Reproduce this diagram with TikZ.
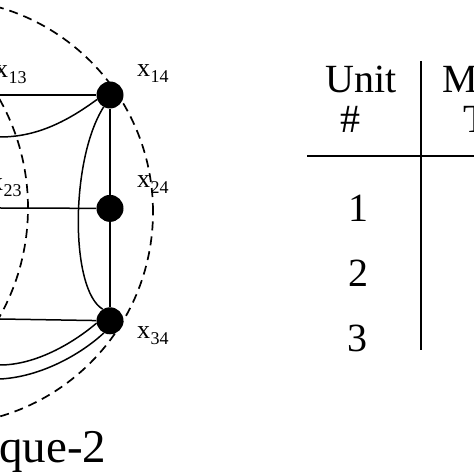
\documentclass[tikz,border=0pt]{standalone}
\usepackage{fontspec}
\setmainfont{Liberation Serif}
\usetikzlibrary{positioning}
\tikzset{
  vertex/.style = {circle, fill=black, inner sep=0pt, minimum size=27pt},
  edge/.style   = {line width=1.5pt},
  bar/.style    = {line width=2.4pt},
  ring/.style   = {line width=1.7pt, dash pattern=on 9pt off 6pt},
  lbl/.style    = {anchor=base west, inner sep=0pt},
  cell/.style   = {anchor=base, inner sep=0pt, font=\fontsize{40}{40}\selectfont},
  head/.style   = {anchor=base west, inner sep=0pt, font=\fontsize{40}{40}\selectfont},
}
\newcommand{\vlab}[1]{{\fontsize{26}{26}\selectfont x}\kern0.5pt\raisebox{-6pt}{\fontsize{18}{18}\selectfont #1}}

\begin{document}
\begin{tikzpicture}[x=1pt, y=1pt]

  \useasboundingbox (0,0) rectangle (474,474);
  \clip (0,0) rectangle (474,474);

  % ----- clique graph (left) -----
  \node[vertex] (x14) at (110,379) {};
  \node[vertex, below=86pt of x14] (x24) {};
  \node[vertex, below=85pt of x24] (x34) {};

  \node[lbl] (l14) at ([xshift=27pt, yshift=18pt]x14.center) {\vlab{14}};
  \node[lbl] (l24) at ([xshift=27pt, yshift=21pt]x24.center) {\vlab{24}};
  \node[lbl] (l34) at ([xshift=27pt, yshift=-18pt]x34.center) {\vlab{34}};
  \node[lbl] (l13) at (-5,396) {\vlab{13}};
  \node[lbl] (l23) at (-10,283) {\vlab{23}};

  \coordinate (w14) at (0,379);
  \coordinate (w24) at (0,266);
  \coordinate (w34) at (0,155);
  \coordinate (wa) at (0,337);
  \coordinate (wb) at (0,109);
  \coordinate (wc) at (0,95);

  \draw[edge] (w14) -- (x14);
  \draw[edge] (w24) -- (x24);
  \draw[edge] (w34) -- (x34);
  \draw[bar] (x14) -- (x24);
  \draw[bar] (x24) -- (x34);
  \draw[edge] (x14.199) .. controls (65,351) and (35,337) .. (wa);
  \draw[edge] (x14.242) .. controls (70,314) and (70,184) .. (x34.122);
  \draw[edge] (x34.190) .. controls (72,130) and (35,109) .. (wb);
  \draw[edge] (x34.243) .. controls (80,119) and (40,97) .. (wc);

  \draw[ring] (-60,262) circle[radius=213];
  \draw[ring] (-194,266) circle[radius=222];

  \node[anchor=base west, inner sep=0pt, font=\fontsize{47}{47}\selectfont] (name) at (-1,12) {que-2};

  % ----- unit table (right) -----
  \node[head] (unit) at (325,381) {Unit};
  \node[cell] (hash) at (350,341) {\#};
  \node[head] (mcol) at (442,381) {M};
  \node[head] (tcol) at (463,341) {T};
  \node[cell] (u1) at (358,252) {1};
  \node[cell] (u2) at (358,187) {2};
  \node[cell] (u3) at (357,122) {3};

  \coordinate (vtop) at (421,413);
  \coordinate (vbot) at (421,124);
  \coordinate (hl) at (307,318);
  \coordinate (hr) at (474,318);
  \draw[bar] (vtop) -- (vbot);
  \draw[bar] (hl) -- (hr);

\end{tikzpicture}
\end{document}
